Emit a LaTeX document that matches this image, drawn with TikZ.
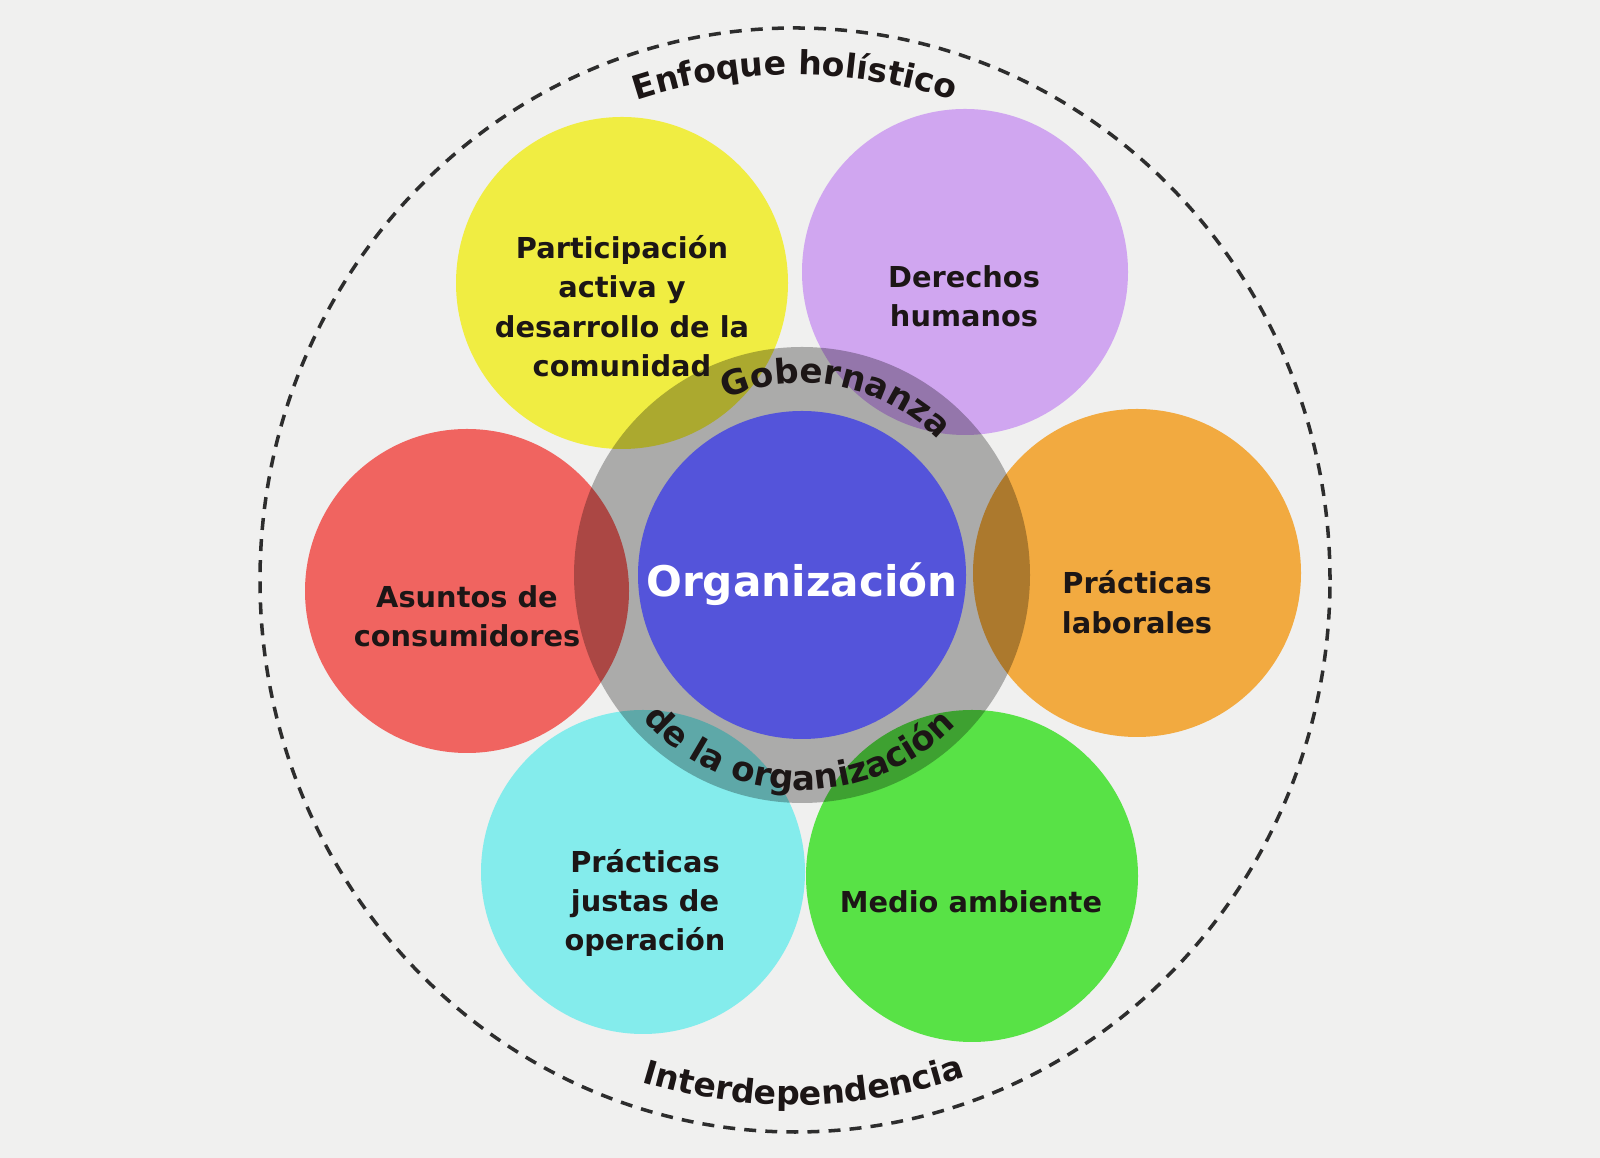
\documentclass[tikz,border=0pt]{standalone}
\usepackage{fontspec}
\setmainfont{DejaVu Sans}
\usetikzlibrary{decorations.text}
\definecolor{bgc}{RGB}{240,240,239}
\definecolor{dashc}{RGB}{45,45,45}
\definecolor{txtc}{RGB}{28,22,22}
\definecolor{yel}{RGB}{240,237,66}
\definecolor{pur}{RGB}{208,166,240}
\definecolor{ora}{RGB}{242,170,64}
\definecolor{gre}{RGB}{88,226,70}
\definecolor{cya}{RGB}{132,236,236}
\definecolor{redc}{RGB}{240,100,96}
\definecolor{blu}{RGB}{84,84,218}
\definecolor{ringc}{RGB}{182,182,182}
\newcommand\lblfont{\fontsize{8.2}{11.2}\selectfont\bfseries}
\newcommand\orgfont{\fontsize{12}{14}\selectfont\bfseries}
\newcommand\arcfont{\fontsize{9.7}{11}\selectfont\bfseries}
\newcommand\rimfont{\fontsize{9.4}{11}\selectfont\bfseries}

\begin{document}
\begin{tikzpicture}[x=0.01cm,y=0.01cm,
	lbl/.style={align=center,text=txtc,font=\lblfont,inner sep=0pt},
	arctext/.style={decorate,decoration={text along path,text align=center,text color=txtc,text={#1}}}]
	\def\cx{802}
	\def\cy{583}
	\def\ox{795}
	\def\oy{578}
	\fill[bgc] (0,0) rectangle (1600,1158);
	\useasboundingbox (0,0) rectangle (1600,1158);
	\draw[draw=dashc, line width=1pt, dash pattern=on 3.4pt off 2.6pt] (\ox,\oy) ellipse [x radius=535, y radius=552];
	\fill[yel] (622,875) circle (166);
	\fill[pur] (965,886) circle (163);
	\fill[ora] (1137,585) circle (164);
	\fill[gre] (972,282) circle (166);
	\fill[cya] (643,286) circle (162);
	\fill[redc] (467,567) circle (162);
	\fill[ringc, blend mode=multiply] (\cx,\cy) circle (228);
	\fill[blu] (\cx,\cy) circle (164);
	\node[lbl] (partic) at (622,852) {Participación\\activa y\\desarrollo de la\\comunidad};
	\node[lbl] (derech) at (964,862) {Derechos\\humanos};
	\node[lbl] (labor) at (1137,556) {Prácticas\\laborales};
	\node[lbl] (medio) at (971,256) {Medio ambiente};
	\node[lbl] (justas) at (645,255) {Prácticas\\justas de\\operación};
	\node[lbl] (consum) at (467,542) {Asuntos de\\consumidores};
	\node[text=white, font=\orgfont, inner sep=0pt, anchor=base] (org) at (802,561) {Organización};
	\path[arctext={|\arcfont|Gobernanza}] (\cx,\cy) ++(125:192) arc[start angle=125, end angle=33, radius=192];
	\path[arctext={|\arcfont|de la organización}] (\cx,\cy) ++(200:215) arc[start angle=200, end angle=338, radius=215];
	\path[arctext={|\rimfont|Enfoque holístico}] (\ox,\oy) ++(120:505) arc[start angle=120, end angle=60, radius=505];
	\path[arctext={|\rimfont|Interdependencia}] (\ox,\oy) ++(240:525) arc[start angle=240, end angle=302, radius=525];
\end{tikzpicture}
\end{document}
